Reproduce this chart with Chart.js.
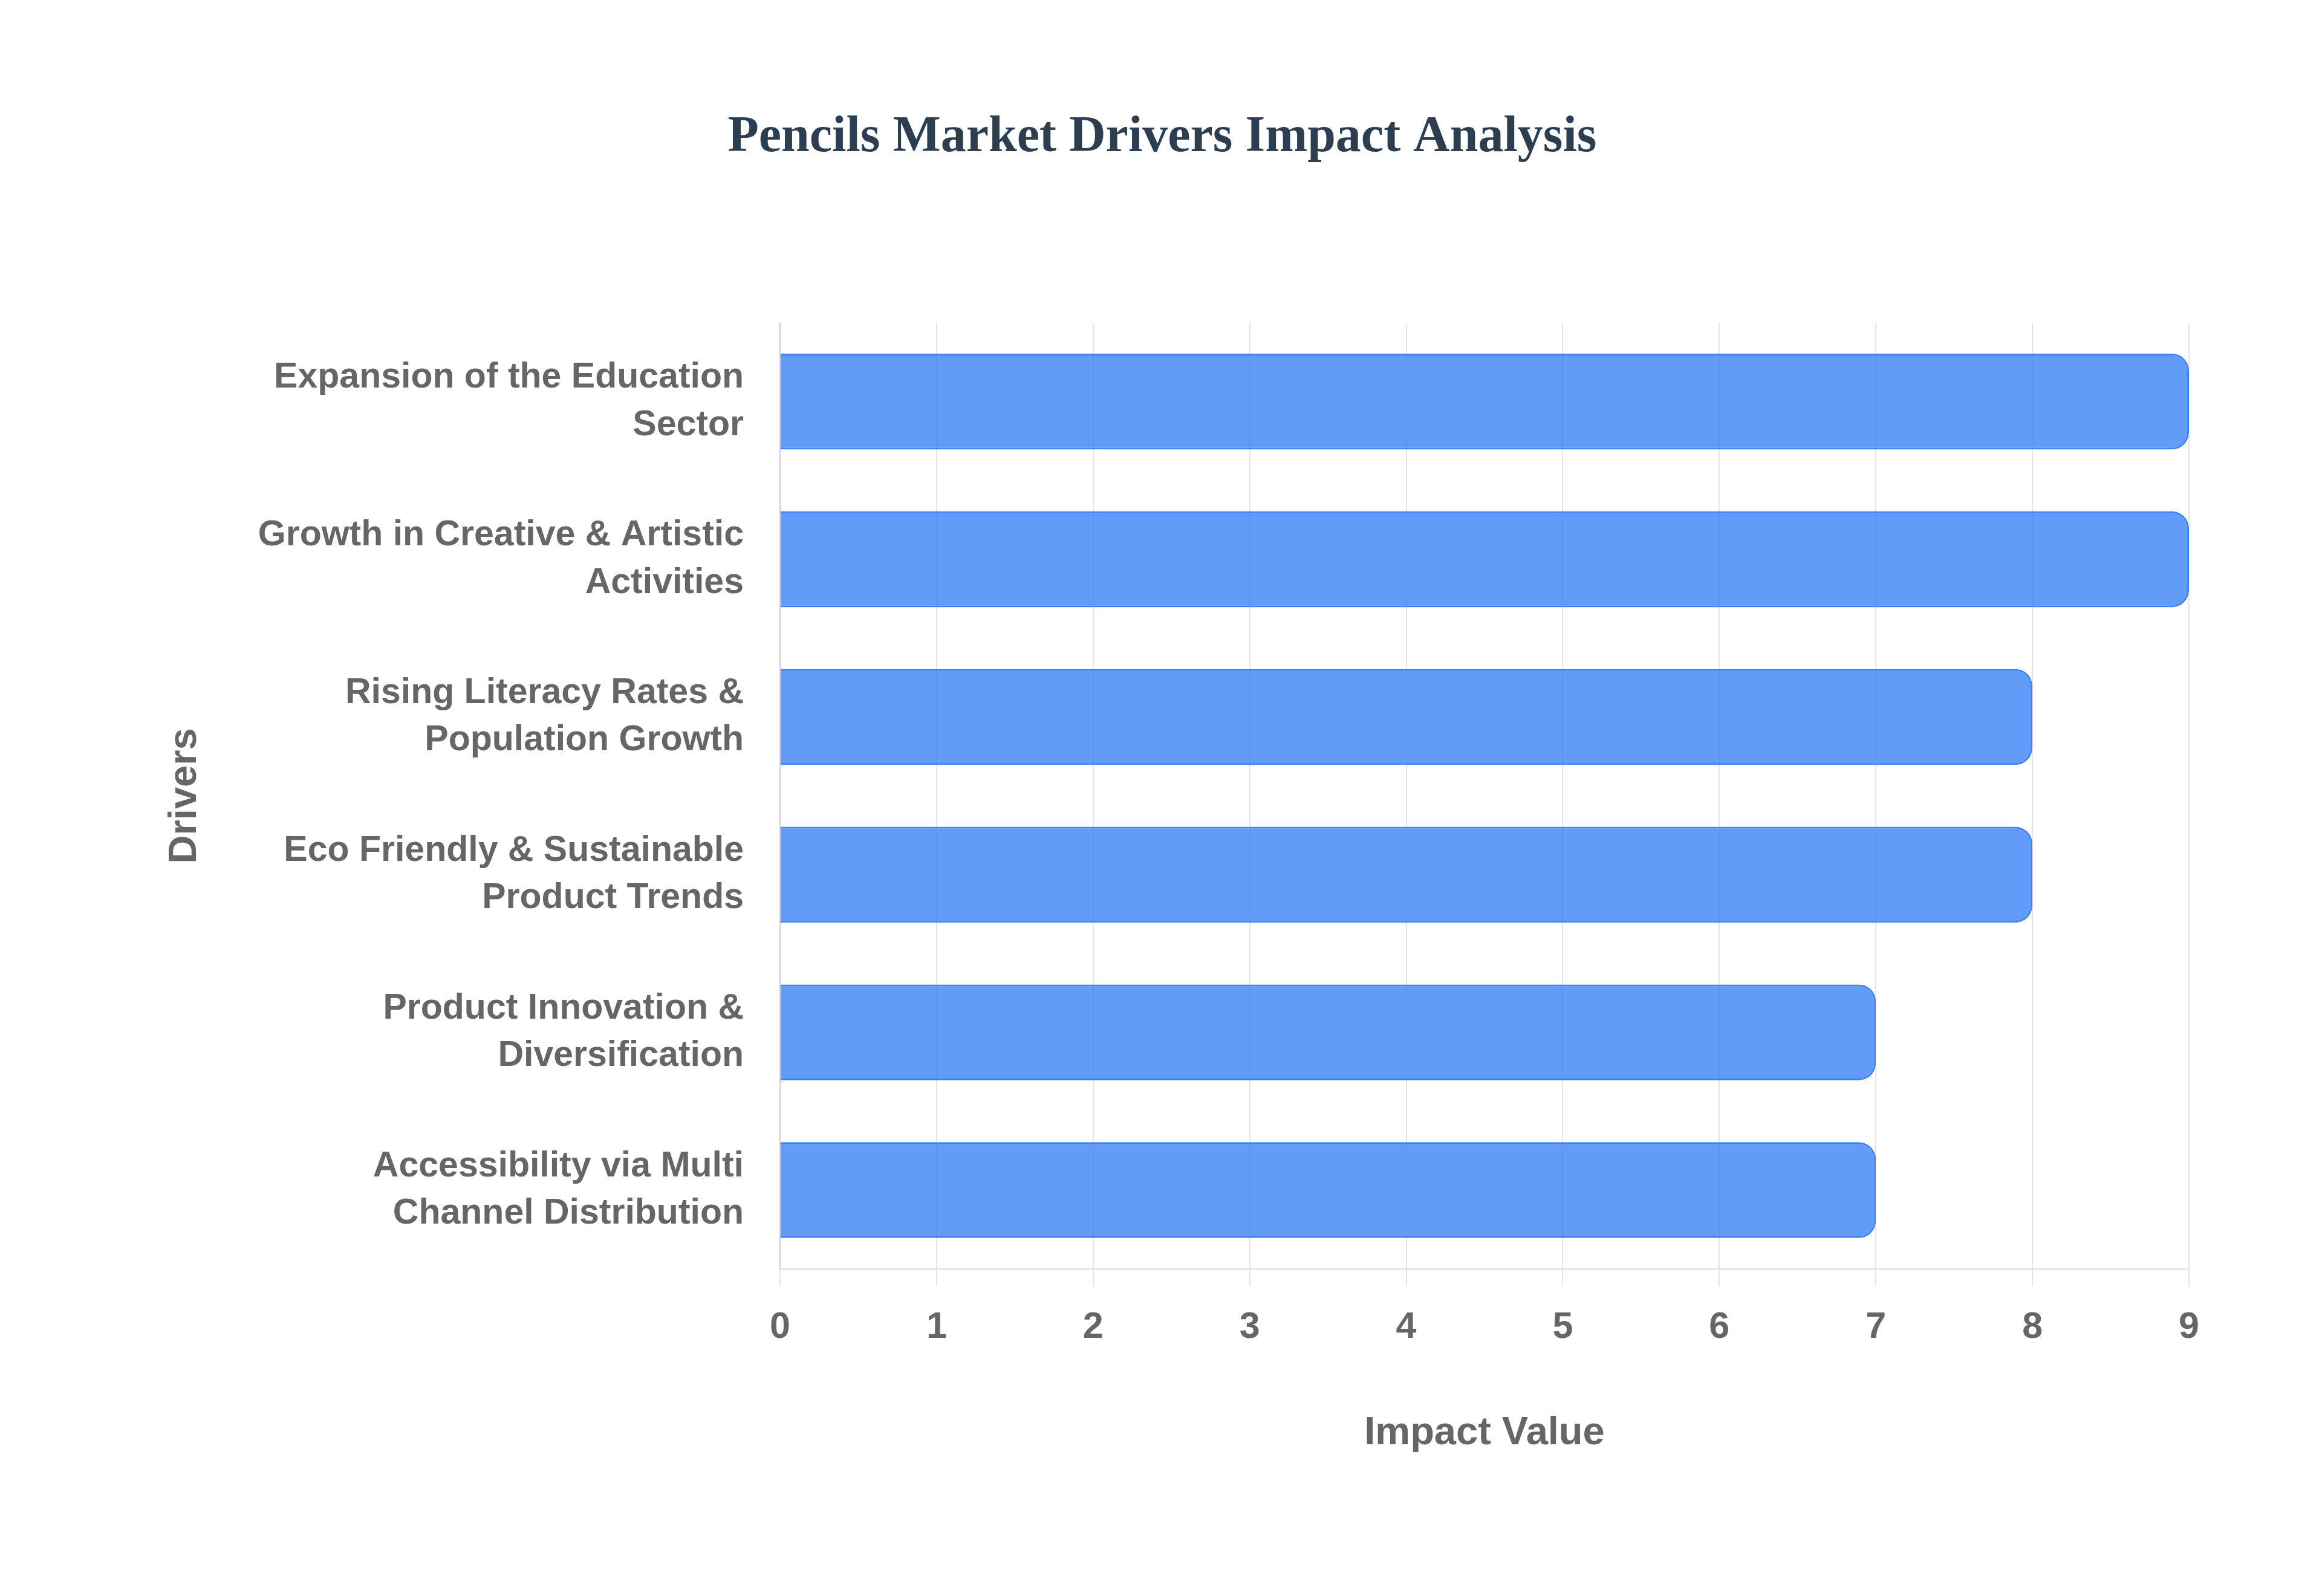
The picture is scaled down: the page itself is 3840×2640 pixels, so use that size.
<!DOCTYPE html>
<html>
<head>
<meta charset="utf-8">
<script src="https://cdn.jsdelivr.net/npm/chart.js@4.4.1/dist/chart.umd.min.js"></script>
<style>
  html, body { margin: 0; padding: 0; background: #ffffff; }
  #wrap { width: 3840px; height: 2640px; }
</style>
</head>
<body>
<div id="wrap"><canvas id="chart" width="3840" height="2640"></canvas></div>
<script>
// Drivers (each label split into its two display lines)
const driverLabels = [
    ['Expansion of the Education', 'Sector'],
    ['Growth in Creative & Artistic', 'Activities'],
    ['Rising Literacy Rates &', 'Population Growth'],
    ['Eco Friendly & Sustainable', 'Product Trends'],
    ['Product Innovation &', 'Diversification'],
    ['Accessibility via Multi', 'Channel Distribution']
];
const impactValues = [9, 9, 8, 8, 7, 7];
const axisMin = 0;
const axisMax = 9;

const labelGray = '#666666';
const sansFont = "'Liberation Sans', Arial, Helvetica, sans-serif";

let ctx = document.getElementById('chart').getContext('2d');

window.bar = new Chart(ctx, {
    type: 'bar',
    data: {
        labels: driverLabels,
        datasets: [{
            label: 'Impact Value',
            data: impactValues,
            backgroundColor: 'rgba(59, 130, 246, 0.8)',
            borderColor: '#3b82f6',
            borderWidth: 3,
            borderRadius: 28,
            borderSkipped: 'start',
            categoryPercentage: 0.8,
            barPercentage: 0.76
        }]
    },
    options: {
        indexAxis: 'y',
        responsive: false,
        animation: false,
        devicePixelRatio: 1,
        layout: { padding: { top: 0, left: 224, right: 220, bottom: 0 } },
        plugins: {
            legend: { display: false },
            tooltip: { enabled: false },
            title: {
                display: true,
                text: 'Pencils Market Drivers Impact Analysis',
                color: '#2c3e50',
                font: { family: "'Liberation Serif', 'Times New Roman', serif", size: 84, weight: 'bold', lineHeight: 1.2 },
                padding: { top: 178, bottom: 255 }
            }
        },
        scales: {
            x: {
                min: axisMin,
                max: axisMax,
                ticks: {
                    stepSize: 1,
                    color: labelGray,
                    padding: 32,
                    font: { family: sansFont, size: 61, weight: 'bold', lineHeight: 1.2 }
                },
                grid: {
                    color: 'rgba(0, 0, 0, 0.1)',
                    lineWidth: 2,
                    tickLength: 29
                },
                border: { display: true, color: 'rgba(0, 0, 0, 0.1)', width: 3 },
                title: {
                    display: true,
                    text: 'Impact Value',
                    color: labelGray,
                    font: { family: sansFont, size: 65, weight: 'bold', lineHeight: 1.2 },
                    padding: { top: 90, bottom: 230 }
                },
                afterFit: function(scale) { scale.height = 541; }
            },
            y: {
                ticks: {
                    color: labelGray,
                    padding: 52,
                    font: { family: sansFont, size: 59, weight: 'bold', lineHeight: 1.33 }
                },
                grid: { display: false },
                border: { display: true, color: 'rgba(0, 0, 0, 0.1)', width: 2 },
                title: {
                    display: true,
                    text: 'Drivers',
                    color: labelGray,
                    font: { family: sansFont, size: 65, weight: 'bold', lineHeight: 1.2 },
                    padding: { top: 43, bottom: 20 }
                },
                afterFit: function(scale) { scale.width = 1066; }
            }
        }
    }
});
</script>
</body>
</html>
